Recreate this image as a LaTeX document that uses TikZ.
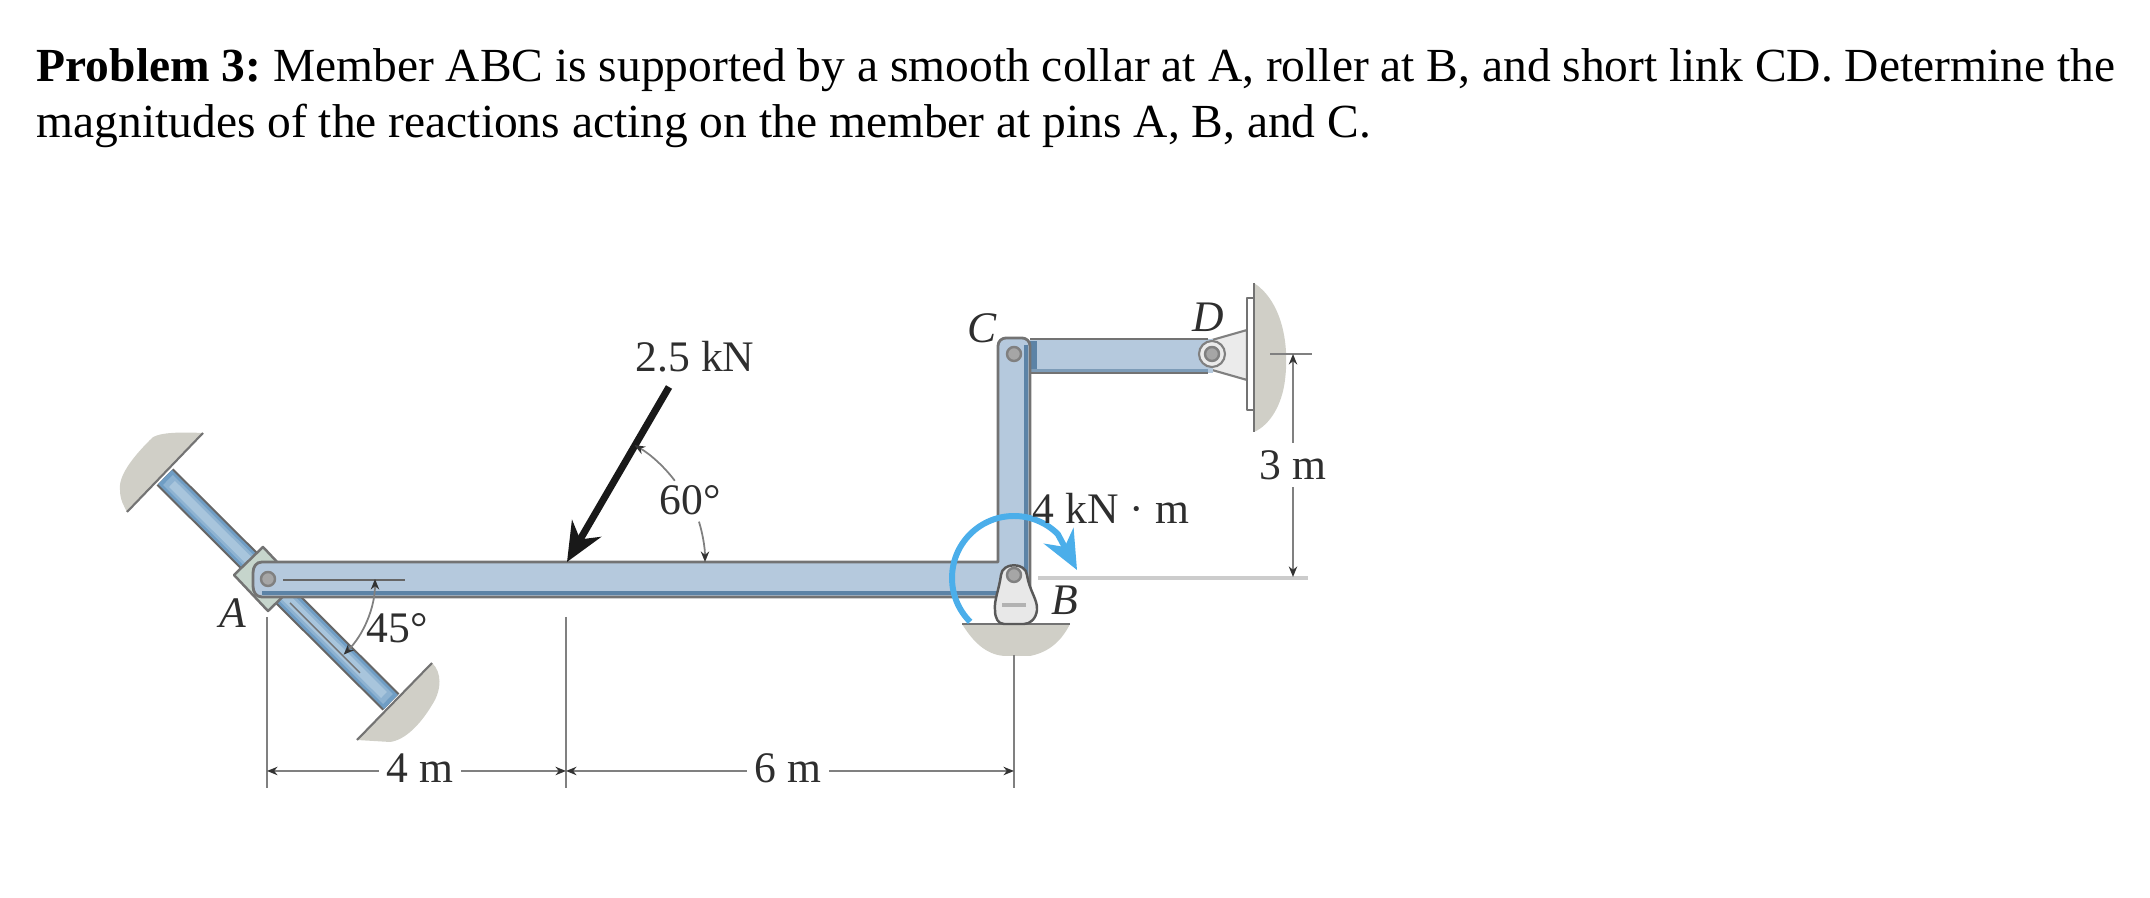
\documentclass[tikz,border=0pt]{standalone}
\usepackage{fontspec}
\setmainfont{Liberation Serif}
\usetikzlibrary{arrows.meta}
\definecolor{beamblue}{HTML}{B5C9DD}
\definecolor{beamdark}{HTML}{5C83A6}
\definecolor{rodblue}{HTML}{6F9DC4}
\definecolor{rodmid}{HTML}{8DB2D1}
\definecolor{rodlight}{HTML}{A8C5DC}
\definecolor{wallgray}{HTML}{D0CFC7}
\definecolor{collargreen}{HTML}{C6D5CC}
\definecolor{momentblue}{HTML}{4BAEEA}
\definecolor{inkgray}{HTML}{2E2E2E}
\tikzset{
	member/.style={draw=black!55,line width=0.8pt,fill=beamblue},
	wall/.style={fill=wallgray,draw=none},
	wallline/.style={draw=black!55,line width=0.6pt},
	dimline/.style={draw=black!50,line width=0.5pt},
	lab/.style={text=inkgray,inner sep=2pt},
	pin/.style={draw=black!50,fill=black!35,line width=0.7pt},
	probtext/.style={anchor=base west,inner sep=0pt,font=\fontsize{13.5}{16}\selectfont},
}
\begin{document}
\frenchspacing
\begin{tikzpicture}[x=0.01cm,y=-0.01cm,>={Stealth[length=3pt,width=2.4pt,color=black!80]},line join=round,font=\fontsize{12.4}{14}\selectfont]
	\useasboundingbox (0,0) rectangle (2150,898);
	\coordinate (A) at (268,579);
	\coordinate (B) at (1014,575);
	\coordinate (C) at (1014,354);
	\coordinate (D) at (1212,354);
	\coordinate (F) at (567,562);
	% problem text
	\node[probtext] (line1) at (36,82) {\textbf{Problem 3:} Member ABC is supported by a smooth collar at A, roller at B, and short link CD. Determine the};
	\node[probtext] (line2) at (36,138) {magnitudes of the reactions acting on the member at pins A, B, and C.};
	% walls
	\fill[wall] (203,433)..controls (180,432) and (155,432)..(150,440)..controls (135,455) and (118,475)..(120,490)..controls (120,500) and (124,506)..(127,512)--cycle;
	\fill[wall] (432,663)..controls (442,672) and (442,690)..(432,705)..controls (420,725) and (405,740)..(390,742)--(357,740)--cycle;
	\fill[wall] (1254,283)..controls (1280,300) and (1290,340)..(1285,380)..controls (1282,405) and (1270,425)..(1254,432)--cycle;
	\fill[wall] (962,624)..controls (972,640) and (985,655)..(1005,656)--(1030,656)..controls (1050,652) and (1062,640)..(1070,624)--cycle;
	\draw[wallline] (203,433)--(127,512);
	\draw[wallline] (432,663)--(357,740);
	\draw[wallline] (1254,283)--(1254,432);
	\draw[wallline] (962,624)--(1070,624);
	% inclined rod
	\draw[black!60,line width=6.8pt] (165,477)--(391,702);
	\draw[rodblue,line width=5.6pt] (165,477)--(391,702);
	\draw[rodmid,line width=4pt] (168,480)--(388,699);
	\draw[rodlight,line width=2.4pt] (172,484)--(384,695);
	\draw[black!55,line width=0.4pt] (290,603)--(360,673);
	% collar
	\draw[draw=black!55,fill=collargreen,line width=0.7pt] (263,547)--(234,575)--(268,611)--(297,583)--cycle;
	% link CD and its bracket
	\draw[draw=black!50,fill=black!8,line width=0.6pt] (1247,330)--(1205,342)--(1205,368)--(1247,380)--cycle;
	\fill[beamblue] (1030,339) rectangle (1213,373);
	\fill[beamdark] (1030,341) rectangle (1037,371);
	\fill[beamdark!80] (1030,369) rectangle (1208,372);
	\draw[black!55,line width=0.8pt] (1030,339)--(1208,339);
	\draw[black!55,line width=0.8pt] (1030,373)--(1208,373);
	\draw[draw=black!50,fill=black!8,line width=0.6pt] (D) circle (13);
	\draw[draw=black!55,fill=white,line width=0.6pt] (1247,298) rectangle (1254,410);
	% member ABC
	\draw[member] (262,562)--(998,562)--(998,346)..controls (998,341) and (1002,338)..(1006,338)--(1022,338)..controls (1026,338) and (1030,341)..(1030,346)--(1030,597)--(262,597)..controls (256,597) and (253,592)..(253,586)--(253,573)..controls (253,567) and (256,562)..(262,562)--cycle;
	\draw[beamdark,line width=0.9pt] (262,593)--(1029,593);
	\draw[beamdark,line width=0.9pt] (1026,345)--(1026,593);
	\draw[black!60,line width=0.4pt] (283,580)--(405,580);
	% rocker at B
	\draw[draw=black!65,fill=black!9,line width=0.7pt] (1001,575)..controls (1002,562) and (1026,562)..(1027,575)..controls (1029,590) and (1038,600)..(1037,610)..controls (1036,619) and (1030,624)..(1024,624)--(1004,624)..controls (998,624) and (995,618)..(995,610)..controls (994,600) and (999,590)..(1001,575)--cycle;
	\draw[black!30,line width=1.2pt] (1002,605)--(1026,605);
	% pins
	\foreach \p in {A,B,C,D} \draw[pin] (\p) circle (7);
	% applied loads
	\coordinate (Ftail) at (669,387);
	\draw[black!90,line width=2pt,-{Stealth[length=11pt,width=9.5pt]}] (Ftail)--(F);
	\coordinate (Mend) at (1077,570);
	\draw[momentblue,line width=1.7pt,-{Stealth[length=11pt,width=9.5pt]}] ([shift={(-225:62)}]1014,578) arc (-225:-45:62)--(Mend);
	% labels
	\node[lab] (load) at (695,357) {2.5 kN};
	\node[lab] (ang60) at (690,500) {60°};
	\node[lab] (ang45) at (397,628) {45°};
	\node[lab] (mom) at (1111,508) {4 kN · m};
	\node[lab] (labA) at (233,613) {\textit{A}};
	\node[lab] (labB) at (1065,600) {\textit{B}};
	\node[lab] (labC) at (982,328) {\textit{C}};
	\node[lab] (labD) at (1208,317) {\textit{D}};
	\node[lab] (dim4) at (420,768) {4 m};
	\node[lab] (dim6) at (788,768) {6 m};
	\node[lab] (dim3) at (1293,465) {3 m};
	% angle arcs
	\draw[dimline,<-] ([shift={(-60:135)}]F) arc (-60:-37:135);
	\draw[dimline,->] ([shift={(-17:138)}]F) arc (-17:0:138);
	\draw[dimline,<->] ([shift={(45:107)}]A) arc (45:0:107);
	% dimensions
	\coordinate (e1) at (267,617); \coordinate (e1b) at (267,788);
	\coordinate (e2) at (566,617); \coordinate (e2b) at (566,788);
	\coordinate (e3) at (1014,655); \coordinate (e3b) at (1014,788);
	\draw[dimline] (e1)--(e1b);
	\draw[dimline] (e2)--(e2b);
	\draw[dimline] (e3)--(e3b);
	\coordinate (d1) at (267,771); \coordinate (d2) at (566,771); \coordinate (d3) at (1014,771);
	\draw[dimline,->] (dim4.west |- d1)--(d1);
	\draw[dimline,->] (dim4.east |- d1)--(d2);
	\draw[dimline,->] (dim6.west |- d2)--(d2);
	\draw[dimline,->] (dim6.east |- d3)--(d3);
	\coordinate (t3) at (1293,354); \coordinate (b3) at (1293,577);
	\draw[dimline] (1270,354)--(1312,354);
	\draw[black!20,line width=1.3pt] (1038,578)--(1308,578);
	\draw[dimline,->] (dim3)--(t3);
	\draw[dimline,->] (dim3)--(b3);
\end{tikzpicture}
\end{document}
